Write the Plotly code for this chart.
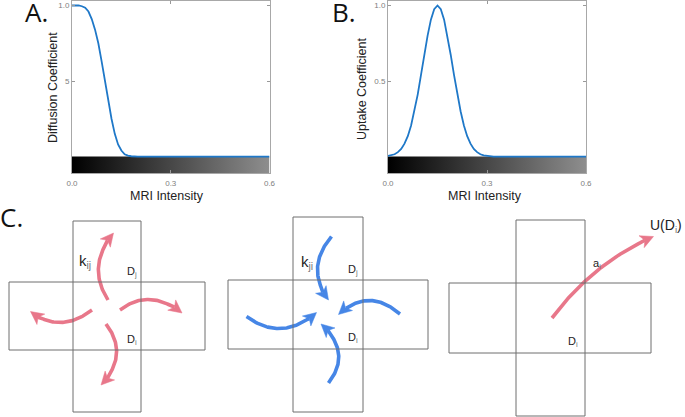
import numpy as np
import plotly.graph_objects as go

W, H = 685, 417

# ---------------- Panel A data ----------------
diff_x = [0.00, 0.01, 0.02, 0.03, 0.04, 0.05, 0.06, 0.07, 0.08, 0.09, 0.10,
          0.11, 0.12, 0.13, 0.14, 0.15, 0.16, 0.17, 0.18, 0.20, 0.30, 0.60]
diff_y = [1.00, 1.00, 1.00, 0.995, 0.985, 0.96, 0.91, 0.84, 0.75, 0.63, 0.50,
          0.37, 0.25, 0.15, 0.08, 0.04, 0.015, 0.006, 0.002, 0.0, 0.0, 0.0]

# ---------------- Panel B data ----------------
upt_x = [0.00, 0.01, 0.02, 0.03, 0.04, 0.05, 0.06, 0.07, 0.08, 0.09, 0.10,
         0.11, 0.12, 0.13, 0.14, 0.15, 0.16, 0.17, 0.18, 0.19, 0.20,
         0.21, 0.22, 0.23, 0.24, 0.25, 0.26, 0.27, 0.28, 0.29, 0.30, 0.32, 0.60]
upt_y = [0.004, 0.008, 0.015, 0.029, 0.05, 0.085, 0.135, 0.206, 0.30, 0.41, 0.54,
         0.674, 0.80, 0.906, 0.976, 1.00, 0.976, 0.906, 0.80, 0.674, 0.54,
         0.41, 0.30, 0.206, 0.135, 0.085, 0.05, 0.029, 0.015, 0.008, 0.004, 0.0, 0.0]

x_tickvals = [0.0, 0.3, 0.6]
x_ticktext = ["0.0", "0.3", "0.6"]
yA_tickvals = [0.5, 1.0]
yA_ticktext = ["5", "1.0"]
yB_tickvals = [0.5, 1.0]
yB_ticktext = ["0.5", "1.0"]
intensity_span = [0.0, 0.6]
bar_span = [-0.109, 0.0]

# ---------------- Panel C diagram (pixel coordinates) ----------------
# each cross: vertical rect (x0, x1, y0, y1), horizontal rect (x0, x1, y0, y1)
cross_vert = [(73, 141, 221, 412), (293, 363, 217, 412), (516, 585, 220, 416)]
cross_horz = [(9, 205, 282, 350), (228, 428, 280, 349), (449, 651, 283, 353)]

# arrows: start, point on curve at middle, tip
pink_arrows = [
    ((108, 300), (98.5, 266.5), (113.5, 233)),
    ((120, 310), (150, 299.5), (182, 313)),
    ((92, 310), (61, 322.5), (30.5, 311.5)),
    ((106, 324), (116.5, 354.5), (101, 385)),
    ((552, 318), (598, 270), (653.5, 236.5)),
]
blue_arrows = [
    ((331.5, 236.5), (317.5, 268), (328.5, 300)),
    ((400, 314), (369, 300.5), (338.5, 314.5)),
    ((246.5, 316.5), (281.5, 328.5), (316.5, 312.5)),
    ((328.5, 383), (338.5, 353), (321, 324)),
]

# labels: (text, x, y, size)
SUB = "<sub><span style='color:#777777'>%s</span></sub>"
diagram_labels = [
    ("k" + SUB % "ij", 85, 261, 15),
    ("D" + SUB % "j", 132, 272, 11),
    ("D" + SUB % "i", 132, 340, 11),
    ("k" + SUB % "ji", 307, 262, 15),
    ("D" + SUB % "j", 353, 270, 11),
    ("D" + SUB % "i", 353, 338, 11),
    ("a" + SUB % "i", 597, 264, 11),
    ("D" + SUB % "i", 573, 342, 11),
    ("U(D" + SUB % "i" + ")", 666, 226, 14),
]
panel_letters = [("A.", 36.5, 12), ("B.", 344, 12), ("C.", 11, 217)]

PINK = "#E8778A"
BLUE = "#4686E6"
CURVE = "#1F78C8"
FRAME = "#A8A8A8"

fig = go.Figure()

# ---- panels A & B ----
for xa, ya, xs, ys in [("x", "y", diff_x, diff_y), ("x2", "y2", upt_x, upt_y)]:
    fig.add_trace(go.Scatter(
        x=[intensity_span[0], intensity_span[1], intensity_span[1], intensity_span[0]],
        y=[bar_span[0], bar_span[0], bar_span[1], bar_span[1]],
        fill="toself", mode="lines", line=dict(width=0),
        fillgradient=dict(type="horizontal",
                          colorscale=[[0, "#000000"], [1, "#8E8E8E"]]),
        xaxis=xa, yaxis=ya, hoverinfo="skip", showlegend=False))
    fig.add_trace(go.Scatter(x=xs, y=ys, mode="lines",
                             line=dict(color=CURVE, width=1.8),
                             xaxis=xa, yaxis=ya, showlegend=False))

axis_common = dict(showline=True, linecolor=FRAME, linewidth=1, mirror="ticks",
                   ticks="inside", ticklen=3, tickcolor="#999999",
                   showgrid=False, zeroline=False, automargin=False,
                   tickfont=dict(family="Liberation Sans", size=8, color="#808080"))

top = 1 - 0.5 / H
bot = 1 - 173 / H
fig.update_layout(
    xaxis=dict(domain=[72 / W, 269.5 / W], range=intensity_span,
               tickvals=x_tickvals, ticktext=x_ticktext, anchor="y",
               ticklabelstandoff=2, **axis_common),
    yaxis=dict(domain=[bot, top], range=[bar_span[0], 1.033],
               tickvals=yA_tickvals, ticktext=yA_ticktext, anchor="x",
               **axis_common),
    xaxis2=dict(domain=[388 / W, 586 / W], range=intensity_span,
                tickvals=x_tickvals, ticktext=x_ticktext, anchor="y2",
                ticklabelstandoff=2, **axis_common),
    yaxis2=dict(domain=[bot, top], range=[bar_span[0], 1.033],
                tickvals=yB_tickvals, ticktext=yB_ticktext, anchor="x2",
                **axis_common),
    xaxis3=dict(domain=[0, 1], range=[0, W], visible=False, anchor="y3",
                automargin=False),
    yaxis3=dict(domain=[0, 1], range=[H, 0], visible=False, anchor="x3",
                automargin=False),
)

# ---- diagram ----
shapes = []
for (x0, x1, y0, y1) in cross_vert + cross_horz:
    shapes.append(dict(type="rect", xref="x3", yref="y3", x0=x0, x1=x1, y0=y0, y1=y1,
                       line=dict(color="#6E6E6E", width=1)))


def add_arrow(p0, m, p2, color):
    p0, m, p2 = np.array(p0, float), np.array(m, float), np.array(p2, float)
    p1 = 2 * m - 0.5 * (p0 + p2)
    t = np.linspace(0, 1, 80)[:, None]
    pts = (1 - t) ** 2 * p0 + 2 * (1 - t) * t * p1 + t ** 2 * p2
    L, hw, notch = 13.0, 6.5, 3.5
    u = p2 - p1
    u = u / np.linalg.norm(u)
    nrm = np.array([-u[1], u[0]])
    base = p2 - L * u
    nt = p2 - (L - notch) * u
    d = np.linalg.norm(pts - p2, axis=1)
    keep = pts[d > (L - notch)]
    line = np.vstack([keep, nt])
    fig.add_trace(go.Scatter(x=line[:, 0], y=line[:, 1], mode="lines",
                             line=dict(color=color, width=3.6),
                             xaxis="x3", yaxis="y3", hoverinfo="skip", showlegend=False))
    head = np.array([p2, base + hw * nrm, nt, base - hw * nrm, p2])
    fig.add_trace(go.Scatter(x=head[:, 0], y=head[:, 1], mode="lines", fill="toself",
                             fillcolor=color, line=dict(color=color, width=0.5),
                             xaxis="x3", yaxis="y3", hoverinfo="skip", showlegend=False))


for a in pink_arrows:
    add_arrow(*a, PINK)
for a in blue_arrows:
    add_arrow(*a, BLUE)

annotations = []
for txt, x, y, s in diagram_labels:
    annotations.append(dict(text=txt, x=x, y=y, xref="x3", yref="y3", showarrow=False,
                            xanchor="center", yanchor="middle",
                            font=dict(family="Liberation Sans", size=s, color="#222222")))
for txt, x, y in panel_letters:
    annotations.append(dict(text=txt, x=x, y=y, xref="x3", yref="y3", showarrow=False,
                            xanchor="center", yanchor="middle",
                            font=dict(family="Open Sans", size=26, color="#111111")))
# axis titles
annotations += [
    dict(text="Diffusion Coefficient", x=53, y=88, textangle=-90),
    dict(text="Uptake Coefficient", x=362, y=89, textangle=-90),
    dict(text="MRI Intensity", x=166.5, y=196),
    dict(text="MRI Intensity", x=485, y=196),
]
for a in annotations[-4:]:
    a.update(xref="x3", yref="y3", showarrow=False, xanchor="center", yanchor="middle",
             font=dict(family="Liberation Sans", size=12.5, color="#222222"))

fig.update_layout(width=W, height=H, margin=dict(l=0, r=0, t=0, b=0),
                  paper_bgcolor="white", plot_bgcolor="rgba(0,0,0,0)",
                  shapes=shapes, annotations=annotations, showlegend=False)

fig.write_html("out.html", config={"displayModeBar": False},
               post_script="document.body.style.margin='0';document.body.style.overflow='hidden';")
